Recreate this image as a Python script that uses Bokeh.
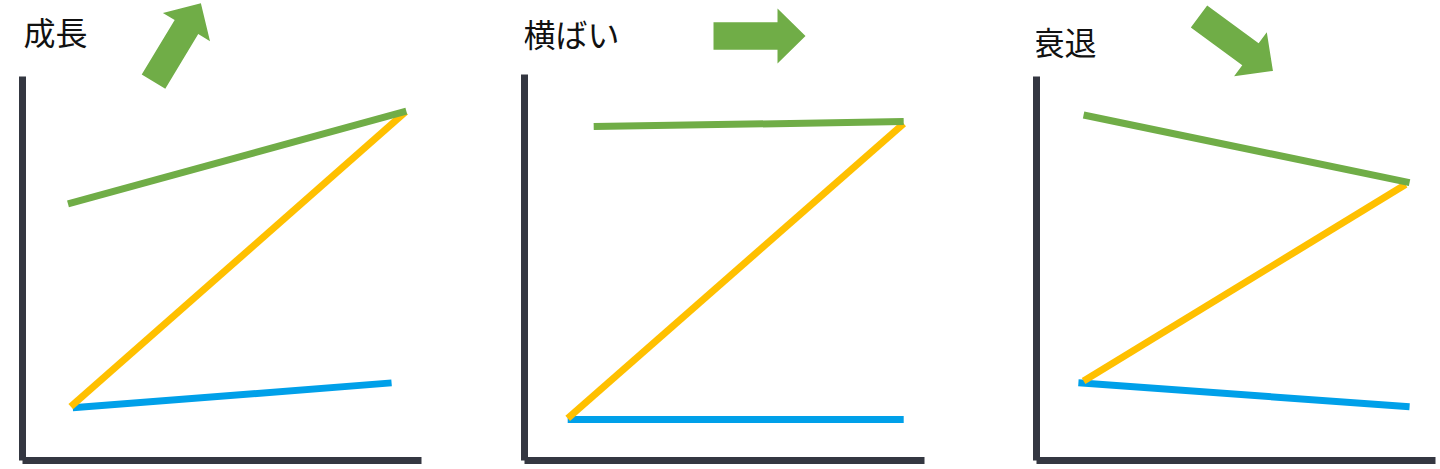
import math
from bokeh.plotting import figure
from bokeh.layouts import row
from bokeh.models import Range1d, LinearAxis, FixedTicker, Label
from bokeh.embed import file_html
from bokeh.resources import INLINE

# ---------------- data (0-100 scale on both axes) ----------------
titles = ["成長", "横ばい", "衰退"]

green_x = [[11.4, 96.2], [17.3, 94.8], [11.8, 93.5]]
green_y = [[66.8, 90.9], [86.5, 87.8], [89.9, 72.3]]

yellow_x = [[12.1, 96.0], [10.8, 94.8], [11.8, 92.5]]
yellow_y = [[14.0, 90.7], [10.9, 87.3], [20.7, 71.8]]

blue_x = [[12.6, 92.5], [10.8, 94.8], [10.5, 93.5]]
blue_y = [[13.7, 20.2], [10.6, 10.6], [20.2, 14.0]]

trend_angle_deg = [59.0, 0.0, -36.5]

# ---------------- style ----------------
GREEN = "#70AD47"
YELLOW = "#FFC000"
BLUE = "#00A0E9"
AXIS = "#343741"
FONT = "Noto Sans CJK JP"

# ---------------- layout (pixels) ----------------
FIG_W = [510, 512, 418]
FIG_H = 469
MB_LEFT = [22, 14, 14]
MB_BOTTOM = [7, 9, 7]
AXIS_LEN_X = [399, 400, 399]     # pixel length of 100 x-units
AXIS_LEN_Y = [386, 386, 386]     # pixel length of 100 y-units
TITLE_PX = [(1, 431.5), (-1, 427.5), (-4, 421.5)]        # rel. to axis corner
ARROW_TAIL_PX = [(131, 380.5), (189, 424.5), (162.5, 446)]
ARROW_L, ARROW_LS, ARROW_h, ARROW_H = 92.0, 64.0, 13.75, 27.5
AXIS_W = 7
LINE_W = 7

figs = []
for i in range(3):
    kx = 100.0 / AXIS_LEN_X[i]
    ky = 100.0 / AXIS_LEN_Y[i]
    frame_w = FIG_W[i] - MB_LEFT[i]
    frame_h = FIG_H - MB_BOTTOM[i]
    x_end = frame_w * kx
    y_end = frame_h * ky

    p = figure(width=FIG_W[i], height=FIG_H,
               x_range=Range1d(0, x_end), y_range=Range1d(0, y_end),
               x_axis_type=None, y_axis_type=None,
               output_backend="svg", toolbar_location=None,
               min_border_left=MB_LEFT[i], min_border_right=0,
               min_border_top=0, min_border_bottom=MB_BOTTOM[i])
    p.outline_line_color = None
    p.background_fill_color = "white"
    p.border_fill_color = "white"

    cap_x = (AXIS_W / 2) * kx
    cap_y = (AXIS_W / 2) * ky
    for loc, bounds in (("left", (-cap_y, 100)), ("below", (-cap_x, min(100, x_end)))):
        ax = LinearAxis(ticker=FixedTicker(ticks=[]), bounds=bounds,
                        axis_line_width=AXIS_W, axis_line_color=AXIS,
                        axis_line_cap="butt",
                        major_tick_line_color=None, minor_tick_line_color=None,
                        major_tick_out=0, major_tick_in=0,
                        minor_tick_out=0, minor_tick_in=0,
                        major_label_standoff=0,
                        major_label_text_font_size="0px")
        p.add_layout(ax, loc)

    # series
    p.line(blue_x[i], blue_y[i], line_color=BLUE, line_width=LINE_W)
    p.line(yellow_x[i], yellow_y[i], line_color=YELLOW, line_width=LINE_W)
    p.line(green_x[i], green_y[i], line_color=GREEN, line_width=LINE_W)

    # title
    tx, ty = TITLE_PX[i]
    p.add_layout(Label(x=tx * kx, y=ty * ky, text=titles[i],
                       text_font=FONT, text_font_size="32px",
                       text_color="#111111", text_align="left",
                       text_baseline="middle"))

    # block arrow showing the trend direction
    a = math.radians(trend_angle_deg[i])
    shape = [(0, -ARROW_h), (ARROW_LS, -ARROW_h), (ARROW_LS, -ARROW_H),
             (ARROW_L, 0), (ARROW_LS, ARROW_H), (ARROW_LS, ARROW_h), (0, ARROW_h)]
    ax0, ay0 = ARROW_TAIL_PX[i]
    xs, ys = [], []
    for u, v in shape:
        px = ax0 + u * math.cos(a) - v * math.sin(a)
        py = ay0 + u * math.sin(a) + v * math.cos(a)
        xs.append(px * kx)
        ys.append(py * ky)
    p.patch(xs, ys, fill_color=GREEN, line_color=None)

    figs.append(p)

layout = row(*figs, spacing=0)
open("out.html", "w").write(file_html(layout, INLINE))
